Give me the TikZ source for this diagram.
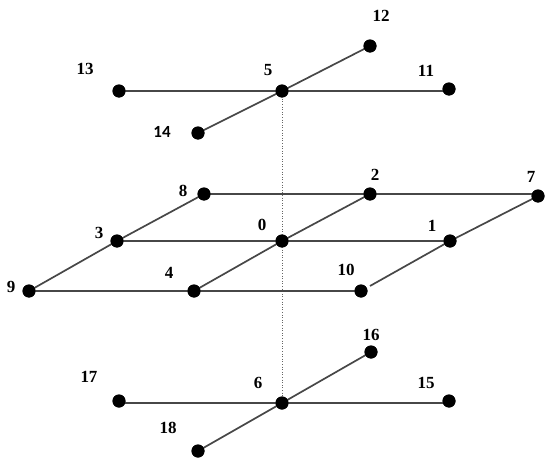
\documentclass[tikz,border=0pt]{standalone}
\usepackage{fontspec}
\setmainfont{Liberation Serif}
\newfontfamily\lblsans{Carlito}
\begin{document}
\begin{tikzpicture}[x=1pt,y=-1pt,
  dotnode/.style={circle,fill=black,inner sep=0pt,minimum width=13pt,minimum height=13pt},
  edge/.style={draw=black!72,line width=1.7pt},
  vline/.style={draw=black!60,line width=0.6pt,dotted},
  lbl/.style={font=\fontsize{17}{17}\selectfont\bfseries,inner sep=0pt}]
\useasboundingbox (0,0) rectangle (550,466);
% dots
\node[dotnode] (n5) at (282,91) {};
\node[dotnode] (n12) at (370,46) {};
\node[dotnode] (n13) at (119,91) {};
\node[dotnode] (n11) at (449,89) {};
\node[dotnode] (n14) at (198,133) {};
\node[dotnode] (n8) at (204,194) {};
\node[dotnode] (n2) at (370,194) {};
\node[dotnode] (n7) at (538,196) {};
\node[dotnode] (n3) at (117,241) {};
\node[dotnode] (n0) at (282,241) {};
\node[dotnode] (n1) at (450,241) {};
\node[dotnode] (n9) at (29,291) {};
\node[dotnode] (n4) at (194,291) {};
\node[dotnode] (n10) at (361,291) {};
\node[dotnode] (n16) at (371,352) {};
\node[dotnode] (n17) at (119,401) {};
\node[dotnode] (n6) at (282,403) {};
\node[dotnode] (n15) at (449,401) {};
\node[dotnode] (n18) at (198,451) {};
\coordinate (c10) at (370,286);
% connectors
\draw[vline] (n5.center) -- (n6.center);
\draw[edge] (n13.center) -- (n5.center) -- (n11.center |- n5.center);
\draw[edge] (n14.center) -- (n5.center) -- (n12.center);
\draw[edge] (n8.center) -- (n2.center) -- (n7.center |- n2.center);
\draw[edge] (n3.center) -- (n0.center) -- (n1.center);
\draw[edge] (n9.center) -- (n4.center) -- (n10.center);
\draw[edge] (n9.center) -- (n3.center) -- (n8.center);
\draw[edge] (n4.center) -- (n0.center) -- (n2.center);
\draw[edge] (c10) -- (n1.center) -- (n7.center);
\draw[edge] (n17.center |- n6.center) -- (n6.center) -- (n15.center |- n6.center);
\draw[edge] (n18.center) -- (n6.center) -- (n16.center);
% dots on top
\foreach \n in {n5,n12,n13,n11,n14,n8,n2,n7,n3,n0,n1,n9,n4,n10,n16,n17,n6,n15,n18}
  \fill (\n) circle (6.5pt);
% labels
\node[lbl] (l13) at (85,69) {13};
\node[lbl] (l5) at (268,70) {5};
\node[lbl] (l12) at (381,16) {12};
\node[lbl] (l11) at (426,71) {11};
\node[lbl,font=\lblsans\fontsize{17}{17}\selectfont\bfseries] (l14) at (162,132) {14};
\node[lbl] (l8) at (183,191) {8};
\node[lbl] (l2) at (375,175) {2};
\node[lbl] (l7) at (531,177) {7};
\node[lbl] (l3) at (99,233) {3};
\node[lbl] (l0) at (262,225) {0};
\node[lbl] (l1) at (432,226) {1};
\node[lbl] (l9) at (11,287) {9};
\node[lbl] (l4) at (169,273) {4};
\node[lbl] (l10) at (346,270) {10};
\node[lbl] (l16) at (371,335) {16};
\node[lbl] (l17) at (89,377) {17};
\node[lbl] (l6) at (258,383) {6};
\node[lbl] (l15) at (426,383) {15};
\node[lbl] (l18) at (168,428) {18};
\end{tikzpicture}
\end{document}
